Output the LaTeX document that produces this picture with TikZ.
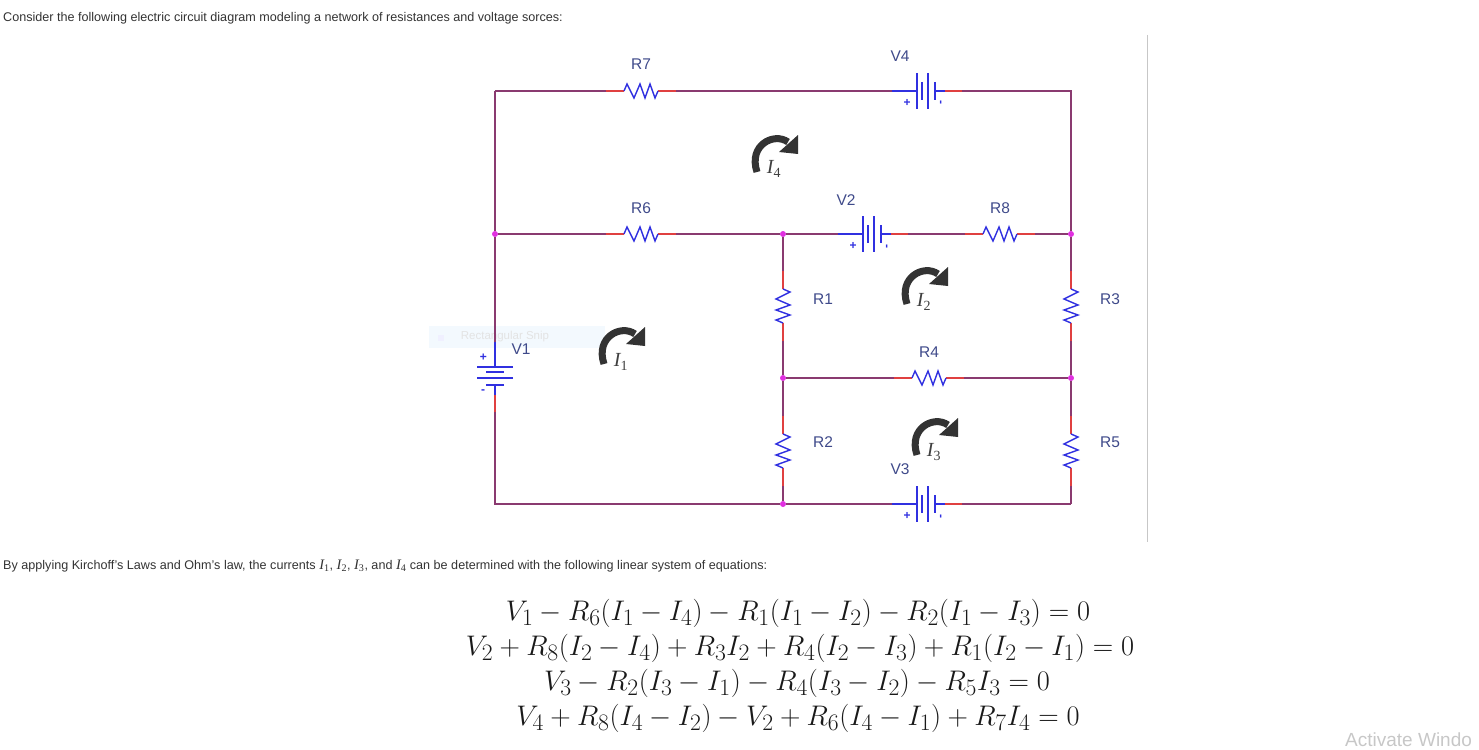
\documentclass[tikz,border=0pt]{standalone}
\usepackage{amsmath}
\usepackage[no-math]{fontspec}
\usepackage{xcolor}
\setmainfont{Liberation Sans}
\newfontfamily\loopfont{Liberation Serif}
\definecolor{wirepurple}{HTML}{8A3A70}
\definecolor{partblue}{HTML}{3030E0}
\definecolor{leadred}{HTML}{E04040}
\definecolor{labelblue}{HTML}{3F4A8A}
\definecolor{dotpink}{HTML}{E030E0}
\definecolor{snipblue}{HTML}{F3F9FE}
\newcommand{\loopname}[1]{{\loopfont\itshape I}\textsubscript{\loopfont #1}}
\newcommand{\noteloop}[1]{{\fontsize{14.5}{14}\selectfont\loopname{#1}}}
\tikzset{
    x=1pt, y=-1pt,
    wire-line/.style = {draw=wirepurple, line width=1.3pt},
    part-line/.style = {draw=partblue, line width=1.4pt},
    lead-line/.style = {draw=leadred, line width=1.3pt},
    part-box/.style = {rectangle, inner sep=0pt, minimum width=70pt, minimum height=2pt, transform shape},
    junction-dot/.style = {circle, fill=dotpink, inner sep=0pt, minimum size=6pt},
    part-label/.style = {text=labelblue, font=\fontsize{15.5}{17}\selectfont},
    sign-label/.style = {text=partblue, inner sep=0pt, font=\bfseries\fontsize{12}{12}\selectfont},
    loop-label/.style = {text=black!75, inner sep=0pt, font=\fontsize{20}{22}\selectfont},
    note-line/.style = {anchor=west, inner sep=0pt, text=black!80, font=\fontsize{12.6}{14}\selectfont},
    eq-line/.style = {inner sep=0pt, text=black!90, scale=1.139, font=\fontsize{24.88}{28}\selectfont},
    pics/resistor/.style = {code={
        \node[part-box] (-box) at (0,0) {};
        \draw[lead-line] (-35,0) -- (-17,0) (17,0) -- (35,0);
        \draw[part-line] (-17,0) -- (-14,-7) -- (-7,7) -- (-1,-7) -- (4,7) -- (9,-7) -- (14,7) -- (17,0);
    }},
    pics/battery/.style = {code={
        \node[part-box] (-box) at (0,0) {};
        \draw[part-line] (-35,0) -- (-10,0) (-10,-18) -- (-10,18);
        \draw[part-line] (-5,-9) -- (-5,9);
        \draw[part-line] (1,-18) -- (1,18);
        \draw[part-line] (8,-9) -- (8,9) (8,0) -- (18,0);
        \draw[lead-line] (18,0) -- (35,0);
        \node[sign-label, transform shape] (-plus) at (-20,12) {+};
        \node[sign-label, transform shape, rotate=90] (-minus) at (15,12) {-};
    }},
    pics/loop-arrow/.style = {code={
        \draw[draw=black!80, line width=7pt] (-41,37) .. controls (-50,10) and (-24,-3) .. (-10,7);
        \fill[black!80] (0,0) -- (0,19) -- (-19,17) -- cycle;
    }},
}

\begin{document}
\begin{tikzpicture}
\useasboundingbox (0,0) rectangle (1479,749);

% screen capture leftovers
\fill[snipblue] (429,326) rectangle (605,348);
\fill[blue!6] (438,335) rectangle (444,341);
\node[text=black!11, font=\fontsize{11.5}{13}\selectfont] (snip) at (505,337) {Rectangular Snip};
\draw[black!22] (1147,35) coordinate (rule-top) -- (1147,542) coordinate (rule-bottom);
\node[anchor=west, inner sep=0pt, text=black!22, font=\fontsize{19}{22}\selectfont] (activate) at (1345,740) {Activate Windo};

\node[note-line] (intro) at (3,18) {Consider the following electric circuit diagram modeling a network of resistances and voltage sorces:};
\node[note-line] (method) at (3,566) {By applying Kirchoff's Laws and Ohm's law, the currents \noteloop{1}, \noteloop{2}, \noteloop{3}, and \noteloop{4} can be determined with the following linear system of equations:};

% corners and junctions
\coordinate (top-left) at (495,91);
\coordinate (top-right) at (1071,91);
\coordinate (bottom-left) at (495,504);
\coordinate (bottom-right) at (1071,504);
\node[junction-dot] (left) at (495,234) {};
\node[junction-dot] (mid-top) at (783,234) {};
\node[junction-dot] (right-top) at (1071,234) {};
\node[junction-dot] (mid-center) at (783,378) {};
\node[junction-dot] (right-center) at (1071,378) {};
\node[junction-dot] (mid-bottom) at (783,504) {};

% parts
\pic (R7) at (641,91) {resistor};
\pic (R6) at (641,234) {resistor};
\pic (R8) at (1000,234) {resistor};
\pic (R4) at (929,378) {resistor};
\pic[rotate=-90] (R1) at (783,306) {resistor};
\pic[rotate=-90] (R2) at (783,451) {resistor};
\pic[rotate=-90] (R3) at (1071,306) {resistor};
\pic[rotate=-90] (R5) at (1071,451) {resistor};
\pic (V4) at (927,91) {battery};
\pic (V2) at (873,234) {battery};
\pic (V3) at (927,504) {battery};
\pic[rotate=-90] (V1) at (495,377) {battery};

% wires
\draw[wire-line] (top-left) -- (R7-box);
\draw[wire-line] (R7-box) -- (V4-box);
\draw[wire-line] (V4-box) -- (top-right) -- (right-top);
\draw[wire-line] (top-left) -- (left);
\draw[wire-line] (left) -- (R6-box);
\draw[wire-line] (R6-box) -- (mid-top);
\draw[wire-line] (mid-top) -- (V2-box);
\draw[wire-line] (V2-box) -- (R8-box);
\draw[wire-line] (R8-box) -- (right-top);
\draw[wire-line] (left) -- (V1-box);
\draw[wire-line] (V1-box) -- (bottom-left) -- (mid-bottom);
\draw[wire-line] (mid-top) -- (R1-box);
\draw[wire-line] (R1-box) -- (mid-center);
\draw[wire-line] (mid-center) -- (R2-box);
\draw[wire-line] (R2-box) -- (mid-bottom);
\draw[wire-line] (mid-center) -- (R4-box);
\draw[wire-line] (R4-box) -- (right-center);
\draw[wire-line] (mid-bottom) -- (V3-box);
\draw[wire-line] (V3-box) -- (bottom-right);
\draw[wire-line] (right-top) -- (R3-box);
\draw[wire-line] (R3-box) -- (right-center);
\draw[wire-line] (right-center) -- (R5-box);
\draw[wire-line] (R5-box) -- (bottom-right);

% part names
\node[part-label] (R7-name) at (641,64) {R7};
\node[part-label] (V4-name) at (900,56) {V4};
\node[part-label] (R6-name) at (641,208) {R6};
\node[part-label] (V2-name) at (846,200) {V2};
\node[part-label] (R8-name) at (1000,208) {R8};
\node[part-label] (R1-name) at (823,299) {R1};
\node[part-label] (R3-name) at (1110,299) {R3};
\node[part-label] (R4-name) at (929,352) {R4};
\node[part-label] (R2-name) at (823,442) {R2};
\node[part-label] (R5-name) at (1110,442) {R5};
\node[part-label] (V3-name) at (900,469) {V3};
\node[part-label] (V1-name) at (521,349) {V1};

% loop currents
\pic at (645,327) {loop-arrow};
\pic at (948,267) {loop-arrow};
\pic at (958,418) {loop-arrow};
\pic at (798,135) {loop-arrow};
\node[loop-label] (I1) at (621,362) {\loopname{1}};
\node[loop-label] (I2) at (924,302) {\loopname{2}};
\node[loop-label] (I3) at (934,452) {\loopname{3}};
\node[loop-label] (I4) at (774,169) {\loopname{4}};

% equations
\node[eq-line] (eq1) at (798,613) {$V_1-R_6(I_1-I_4)-R_1(I_1-I_2)-R_2(I_1-I_3)=0$};
\node[eq-line] (eq2) at (800,648) {$V_2+R_8(I_2-I_4)+R_3I_2+R_4(I_2-I_3)+R_1(I_2-I_1)=0$};
\node[eq-line] (eq3) at (797,683) {$V_3-R_2(I_3-I_1)-R_4(I_3-I_2)-R_5I_3=0$};
\node[eq-line] (eq4) at (798,718) {$V_4+R_8(I_4-I_2)-V_2+R_6(I_4-I_1)+R_7I_4=0$};
\end{tikzpicture}
\end{document}
